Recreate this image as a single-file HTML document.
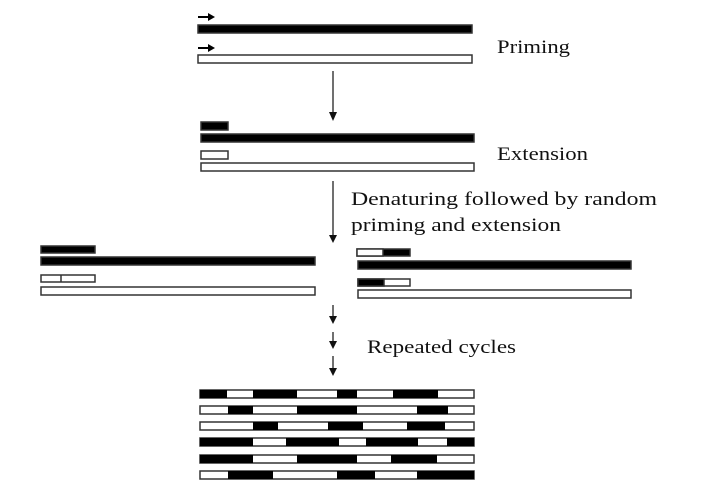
<!DOCTYPE html>
<html><head><style>html,body{margin:0;padding:0;background:#fff;}</style></head>
<body>
<svg width="716" height="493" viewBox="0 0 716 493" xmlns="http://www.w3.org/2000/svg" font-family="Liberation Serif, serif" font-size="19" fill="#111">
<g stroke="#333" stroke-width="1.5">
<rect x="198" y="25" width="274" height="8" fill="#000"/>
<rect x="198" y="55" width="274" height="8" fill="#fff"/>
<rect x="201" y="122" width="27" height="8" fill="#000"/>
<rect x="201" y="134" width="273" height="8" fill="#000"/>
<rect x="201" y="151" width="27" height="8" fill="#fff"/>
<rect x="201" y="163" width="273" height="8" fill="#fff"/>
<rect x="41" y="246" width="54" height="7" fill="#000"/>
<rect x="41" y="257" width="274" height="8" fill="#000"/>
<rect x="41" y="275" width="54" height="7" fill="#fff"/>
<line x1="61" y1="275" x2="61" y2="282"/>
<rect x="41" y="287" width="274" height="8" fill="#fff"/>
<rect x="357" y="249" width="53" height="7" fill="#000"/>
<rect x="357" y="249" width="26" height="7" fill="#fff"/>
<rect x="358" y="261" width="273" height="8" fill="#000"/>
<rect x="358" y="279" width="52" height="7" fill="#fff"/>
<rect x="358" y="279" width="26" height="7" fill="#000"/>
<rect x="358" y="290" width="273" height="8" fill="#fff"/>
</g>
<g stroke="#000" stroke-width="2">
<line x1="198" y1="17" x2="210" y2="17"/><line x1="198" y1="48" x2="210" y2="48"/>
</g>
<path d="M208,13 L215,17 L208,21z M208,44 L215,48 L208,52z" fill="#000"/>
<g stroke="#222" stroke-width="1.3">
<line x1="333" y1="71" x2="333" y2="114"/>
<line x1="333" y1="181" x2="333" y2="236"/>
<line x1="333" y1="305" x2="333" y2="317"/>
<line x1="333" y1="332" x2="333" y2="342"/>
<line x1="333" y1="356" x2="333" y2="369"/>
</g>
<g fill="#111">
<path d="M329,112 L337,112 L333,121z"/>
<path d="M329,235 L337,235 L333,243z"/>
<path d="M329,316 L337,316 L333,324z"/>
<path d="M329,341 L337,341 L333,349z"/>
<path d="M329,368 L337,368 L333,376z"/>
</g>
<text x="497" y="53" textLength="73" lengthAdjust="spacingAndGlyphs">Priming</text>
<text x="497" y="160" textLength="91" lengthAdjust="spacingAndGlyphs">Extension</text>
<text x="351" y="205" textLength="306" lengthAdjust="spacingAndGlyphs">Denaturing followed by random</text>
<text x="351" y="231" textLength="210" lengthAdjust="spacingAndGlyphs">priming and extension</text>
<text x="367" y="353" textLength="149" lengthAdjust="spacingAndGlyphs">Repeated cycles</text>
<g stroke="#333" stroke-width="1.5">
<rect x="200" y="390" width="274" height="8" fill="#fff"/>
<rect x="200" y="406" width="274" height="8" fill="#fff"/>
<rect x="200" y="422" width="274" height="8" fill="#fff"/>
<rect x="200" y="438" width="274" height="8" fill="#fff"/>
<rect x="200" y="455" width="274" height="8" fill="#fff"/>
<rect x="200" y="471" width="274" height="8" fill="#fff"/>
</g>
<g fill="#000">
<rect x="200" y="390" width="27" height="8"/><rect x="253" y="390" width="44" height="8"/><rect x="337" y="390" width="20" height="8"/><rect x="393" y="390" width="45" height="8"/>
<rect x="228" y="406" width="25" height="8"/><rect x="297" y="406" width="60" height="8"/><rect x="417" y="406" width="31" height="8"/>
<rect x="253" y="422" width="25" height="8"/><rect x="328" y="422" width="35" height="8"/><rect x="407" y="422" width="38" height="8"/>
<rect x="200" y="438" width="53" height="8"/><rect x="286" y="438" width="53" height="8"/><rect x="366" y="438" width="52" height="8"/><rect x="447" y="438" width="27" height="8"/>
<rect x="200" y="455" width="53" height="8"/><rect x="297" y="455" width="60" height="8"/><rect x="391" y="455" width="46" height="8"/>
<rect x="228" y="471" width="45" height="8"/><rect x="337" y="471" width="38" height="8"/><rect x="417" y="471" width="57" height="8"/>
</g>
</svg>
</body></html>
